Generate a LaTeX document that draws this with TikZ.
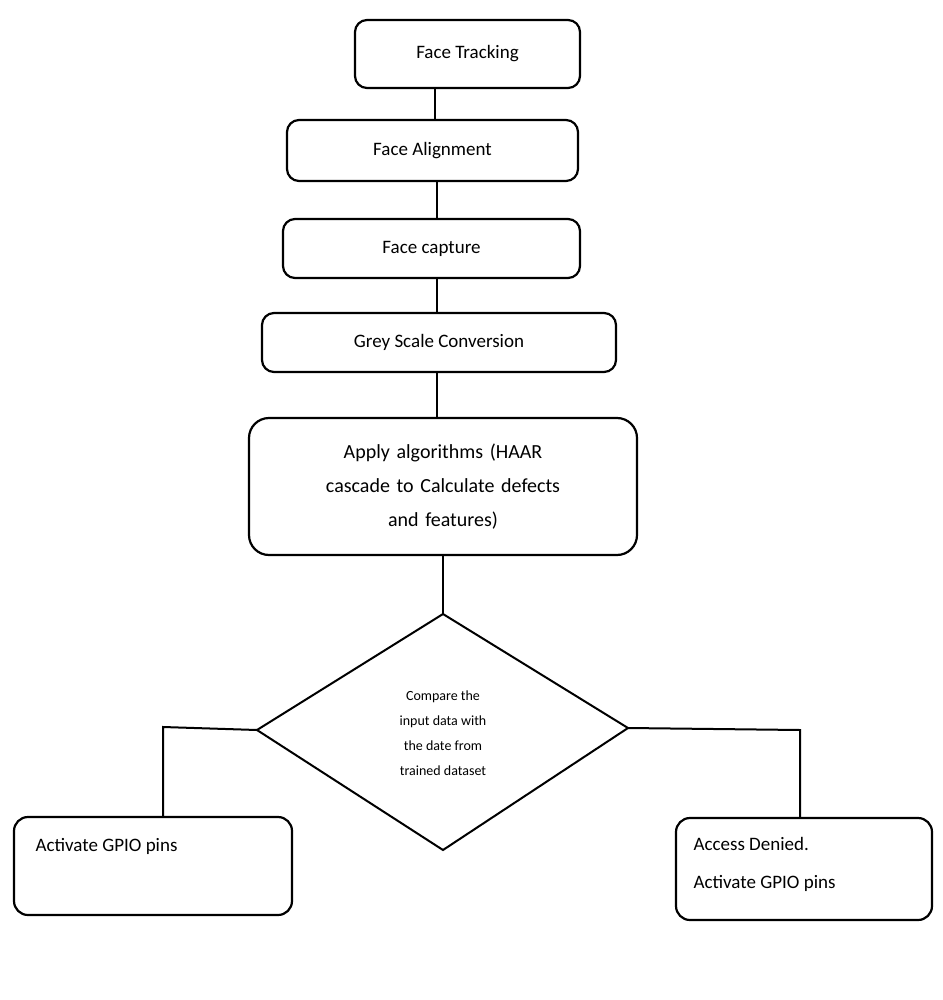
\documentclass[tikz,border=0pt]{standalone}
\usepackage{fontspec}
\setmainfont{Carlito}
\usetikzlibrary{shapes.geometric}
\begin{document}
\begin{tikzpicture}[x=1pt,y=-1pt,
  box/.style={draw,line width=2.2pt,rounded corners=12pt,font=\fontsize{19}{23}\selectfont},
  ln/.style={line width=2pt}]
\useasboundingbox (0,0) rectangle (942,1000);
\node[box,minimum width=225,minimum height=68] (b1) at (467.5,54) {Face Tracking};
\node[box,minimum width=291,minimum height=61] (b2) at (432.5,150.5) {Face Alignment};
\node[box,minimum width=297,minimum height=59] (b3) at (431.5,248.5) {Face capture};
\node[box,minimum width=354,minimum height=59] (b4) at (439,342.5) {Grey Scale Conversion};
\node[box,minimum width=388,minimum height=137,rounded corners=20pt,align=center,text width=330,font=\fontsize{20}{34}\selectfont] (b5) at (443,486.5) {Apply algorithms (HAAR\\cascade to Calculate defects\\and features)};
\draw[ln] (257,730) coordinate (dl) -- (443,614) coordinate (dt) -- (628,728) coordinate (dr) -- (443,850) coordinate (db) -- cycle;
\node[align=center,font=\fontsize{14}{25}\selectfont] (dtext) at (443,733) {Compare the\\input data with\\the date from\\trained dataset};
\node[box,minimum width=278,minimum height=98,rounded corners=14pt] (l) at (153,866) {};
\node[font=\fontsize{19}{23}\selectfont,anchor=west] (lt) at (32,846) {Activate GPIO pins};
\node[box,minimum width=256,minimum height=102,rounded corners=14pt] (r) at (804,869) {};
\node[font=\fontsize{19}{38}\selectfont,anchor=north west,align=left] (rt) at (690,834) {Access Denied.\\Activate GPIO pins};
\draw[ln] (b1.south -| 435,0) -- (b2.north -| 435,0);
\draw[ln] (b2.south -| 437,0) -- (b3.north -| 437,0);
\draw[ln] (b3.south -| 437,0) -- (b4.north -| 437,0);
\draw[ln] (b4.south -| 437,0) -- (b5.north -| 437,0);
\draw[ln] (b5.south -| 443,0) -- (dt);
\draw[ln] (dl) -- (163,727) -- (l.north -| 163,0);
\draw[ln] (dr) -- (800,730) -- (r.north -| 800,0);
\end{tikzpicture}
\end{document}
